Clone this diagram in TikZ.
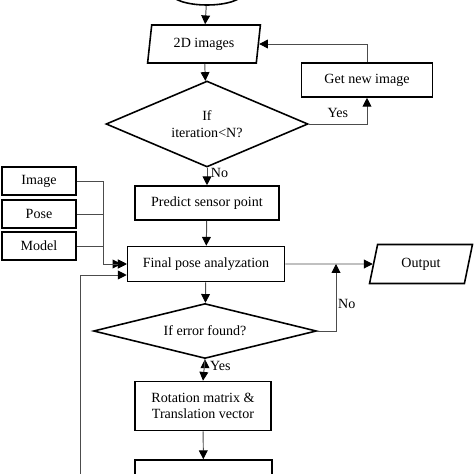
\documentclass[tikz,border=0pt]{standalone}
\usepackage{fontspec}
\setmainfont{Liberation Serif}
\usetikzlibrary{shapes.geometric,arrows.meta,positioning}

\begin{document}
\begin{tikzpicture}[%
    x=0.02cm, y=-0.02cm,
    >={Stealth[inset=0pt,length=5pt,width=5pt,color=black]},
    font=\fontsize{8}{9.5}\selectfont,
    box/.style={draw, line width=0.9pt, rectangle, align=center, inner sep=1pt},
    data/.style={draw, line width=0.9pt, trapezium, trapezium stretches=true, inner sep=1pt},
    decision/.style={draw, line width=0.9pt, diamond, align=center, inner sep=0pt},
    link/.style={draw=black!70, line width=0.55pt},
  ]
    \useasboundingbox (0,0) rectangle (474,474);
    \clip (0,0) rectangle (474,474);

    \node (start)    [draw, line width=0.9pt, ellipse, minimum width=1.44cm, minimum height=0.48cm] at (207,-7) {};
    \node (images)   [data, trapezium left angle=81, trapezium right angle=99, minimum width=2.26cm, minimum height=0.76cm] at (204,44) {2D images};
    \node (iter)     [decision, aspect=2.35, minimum width=4.04cm, minimum height=1.72cm] at (207,124) {If\\iteration<N?};
    \node (newimg)   [box, minimum width=2.62cm, minimum height=0.68cm] at (367,80) {Get new image};
    \node (predict)  [box, minimum width=2.88cm, minimum height=0.68cm] at (207,203) {Predict sensor point};
    \node (final)    [box, minimum width=3.14cm, minimum height=0.70cm] at (206,264) {Final pose analyzation};
    \node (image)    [box, minimum width=1.48cm, minimum height=0.56cm] at (39,181) {Image};
    \node (pose)     [box, minimum width=1.48cm, minimum height=0.56cm] at (39,214) {Pose};
    \node (model)    [box, minimum width=1.48cm, minimum height=0.56cm] at (39,246) {Model};
    \node (output)   [data, trapezium left angle=76, trapezium right angle=104, minimum width=2.06cm, minimum height=0.78cm] at (421,264) {Output};
    \node (error)    [decision, aspect=4.05, minimum width=4.46cm, minimum height=1.10cm] at (205,331) {If error found?};
    \node (rotation) [box, minimum width=2.72cm, minimum height=0.98cm] at (203,406) {Rotation matrix \&\\Translation vector};
    \node (update)   [box, minimum width=2.74cm, minimum height=1.00cm] at (203.5,485) {};

    \coordinate (join)  at (103,264);
    \coordinate (merge) at (336,264);
    \coordinate (back)  at (80,485);

    \path[->, link] (start)    edge (images)
                    (images)   edge (iter)
                    (predict)  edge (final)
                    (final)    edge (output)
                    (final)    edge (error)
                    (rotation) edge (update)
                    (iter.south)  edge node [right, pos=0.3, inner sep=2pt] {No}  (predict.north)
                    (error.south) edge node [right, pos=0.3, inner sep=3pt] {Yes} (rotation.north)
                    ;

    \draw[->, link] (iter.east) -| node [pos=0.25, above] {Yes} (newimg.south);
    \draw[->, link] (newimg.north) |- (images.east);
    \draw[->, link] (error.east) -| node [pos=0.7, right, inner sep=1pt] {No} (merge);

    \draw[->, link] (image.east) -| (join) -- (final.west);
    \draw[->, link, shorten >=3pt] (pose.east) -| (join) -- (final.west);
    \draw[->, link] (model.east) -| (join) -- (final.west);
    \draw[->, link] (update.west) -- (back) |- ([yshift=-0.22cm]final.west);
  \end{tikzpicture}
\end{document}
